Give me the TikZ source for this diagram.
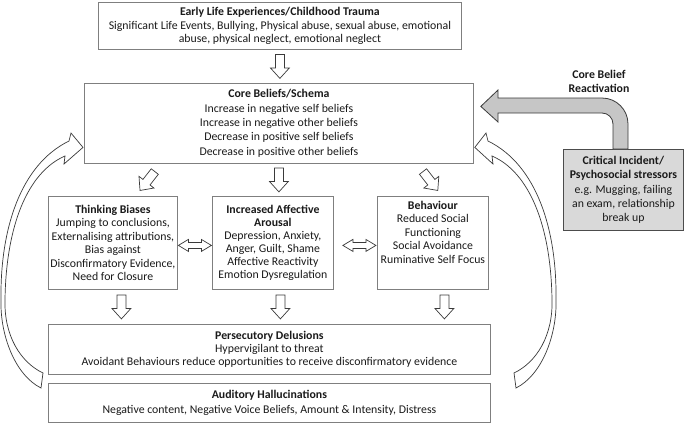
\documentclass[tikz,border=0pt]{standalone}
\usepackage{fontspec}
\setmainfont{Carlito}
\usetikzlibrary{calc}
\definecolor{boxline}{HTML}{7F7F7F}
\definecolor{arrline}{HTML}{3A3A3A}
\definecolor{txtcol}{HTML}{1A1A1A}
\tikzset{
  box/.style={draw=boxline, line width=0.8pt, fill=white, align=center, inner sep=0pt,
    anchor=north west, text=txtcol, font=\fontsize{11.8}{13.5}\selectfont},
  txt/.style={align=center, inner sep=0pt, text=txtcol, font=\fontsize{11.8}{13.5}\selectfont},
  blk/.style={draw=arrline, line width=0.7pt, fill=white, line join=miter},
  curvarrow/.style={draw=arrline, line width=0.7pt, fill=white, line join=miter},
  grayarrow/.style={draw=arrline, line width=0.8pt, fill=gray!45, line join=miter},
  pics/downarrow/.style={code={\draw[blk] (-4.5,-12) -- (4.5,-12) -- (4.5,1.5) -- (9.5,1.5) -- (0,12) -- (-9.5,1.5) -- (-4.5,1.5) -- cycle;}},
  pics/dblarrow/.style={code={\draw[blk] (-16.5,0) -- (-6.5,-6) -- (-6.5,-3) -- (6.5,-3) -- (6.5,-6) -- (16.5,0) -- (6.5,6) -- (6.5,3) -- (-6.5,3) -- (-6.5,6) -- cycle;}}
}
\begin{document}
\begin{tikzpicture}[x=1pt,y=-1pt]
\useasboundingbox (0,0) rectangle (685,424);

% boxes
\node[box, minimum width=363pt, minimum height=47pt] (early) at (98,2)
  {\textbf{Early Life Experiences/Childhood Trauma}\\Significant Life Events, Bullying, Physical abuse, sexual abuse, emotional\\abuse, physical neglect, emotional neglect};
\node[box, minimum width=389pt, minimum height=80pt, font=\fontsize{11.8}{14.3}\selectfont] (core) at (84,83)
  {\textbf{Core Beliefs/Schema}\\Increase in negative self beliefs\\Increase in negative other beliefs\\Decrease in positive self beliefs\\Decrease in positive other beliefs};
\node[box, minimum width=129pt, minimum height=93pt] (tb) at (48,196)
  {\textbf{Thinking Biases}\\Jumping to conclusions,\\Externalising attributions,\\Bias against\\Disconfirmatory Evidence,\\Need for Closure};
\node[box, minimum width=121pt, minimum height=93pt, font=\fontsize{11.8}{12.9}\selectfont] (aff) at (212,196)
  {\textbf{Increased Affective}\\\textbf{Arousal}\\Depression, Anxiety,\\Anger, Guilt, Shame\\Affective Reactivity\\Emotion Dysregulation};
\node[box, minimum width=111pt, minimum height=93pt] (beh) at (377,196) {};
\node[txt, anchor=north] (behtxt) at ($(beh.north)+(0,5)$)
  {\textbf{Behaviour}\\Reduced Social\\Functioning\\Social Avoidance\\Ruminative Self Focus};
\node[box, minimum width=442pt, minimum height=50pt, font=\fontsize{11.8}{13.2}\selectfont] (pers) at (48,324)
  {\textbf{Persecutory Delusions}\\Hypervigilant to threat\\Avoidant Behaviours reduce opportunities to receive disconfirmatory evidence};
\node[box, minimum width=442pt, minimum height=39pt, font=\fontsize{11.8}{15}\selectfont] (aud) at (48,383)
  {\textbf{Auditory Hallucinations}\\Negative content, Negative Voice Beliefs, Amount \& Intensity, Distress};
\node[box, fill=gray!30, draw=gray!60!black, minimum width=120pt, minimum height=81pt, font=\fontsize{11.8}{14.4}\selectfont] (crit) at (563,149)
  {\textbf{Critical Incident/}\\\textbf{Psychosocial stressors}\\e.g. Mugging, failing\\an exam, relationship\\break up};
\node[txt, font=\fontsize{11.8}{14}\selectfont] (react) at (599,81) {\textbf{Core Belief}\\\textbf{Reactivation}};

% block arrows
\pic at ($(early.south)!.5!(early.south|-core.north)$) {downarrow};
\pic at ($(core.south)!.5!(core.south|-aff.north)$) {downarrow};
\pic[rotate=-38] at ($(tb.north)+(34.5,-15)$) {downarrow};
\pic[rotate=38] at ($(beh.north)+(-2.5,-15)$) {downarrow};
\pic at ($(tb.south)!.5!(tb.south|-pers.north)+(8.5,0)$) {downarrow};
\pic at ($(aff.south)!.5!(aff.south|-pers.north)+(7.5,0)$) {downarrow};
\pic at ($(beh.south)!.5!(beh.south|-pers.north)+(11.5,0)$) {downarrow};
\pic at ($(tb.east)!.5!(aff.west)+(0,2.5)$) {dblarrow};
\pic at ($(aff.east)!.5!(beh.west)+(4,2.5)$) {dblarrow};

% gray bent arrow from critical incident to core beliefs
\coordinate (gtip) at ($(core.east)+(7,-17)$);
\draw[grayarrow] (crit.north -| 628,0) -- (628,124) .. controls (628,109.6) and (616.4,98) .. (602,98)
  -- (498,98) -- (498,90) -- (gtip) -- (498,122) -- (498,113) -- (602,113)
  .. controls (608.1,113) and (613,117.9) .. (613,124) -- (crit.north -| 613,0) -- cycle;

% curved feedback arrows
\coordinate (ltip) at ($(core.west)+(-1,24)$);
\coordinate (rtip) at ($(core.east)+(1,24)$);
\draw[curvarrow] (41,388) .. controls (15,375) and (0,335) .. (1,300)
  .. controls (0,230) and (20,165) .. (69,141) -- (71,133) -- (ltip) -- (64,164) -- (65,156)
  .. controls (28,172) and (6,225) .. (5,300) .. controls (4,335) and (20,362) .. (43,373) -- cycle;
\draw[curvarrow] (516,388) .. controls (542,375) and (557,335) .. (556,300)
  .. controls (557,230) and (537,165) .. (488,141) -- (486,133) -- (rtip) -- (493,164) -- (492,156)
  .. controls (529,172) and (551,225) .. (552,300) .. controls (553,335) and (537,362) .. (514,373) -- cycle;
\end{tikzpicture}
\end{document}
